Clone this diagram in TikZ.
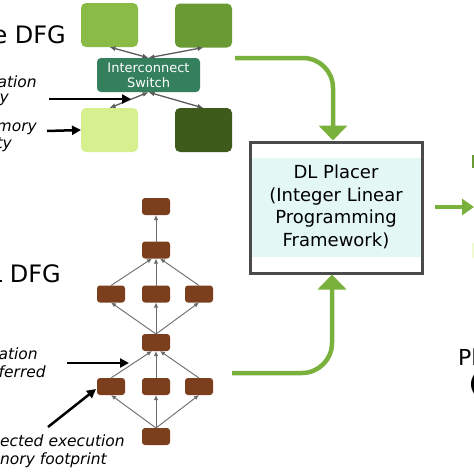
\documentclass[tikz,border=0pt]{standalone}
\usepackage{fontspec}
\setmainfont{DejaVu Sans}
\usetikzlibrary{arrows.meta}
\definecolor{gA}{HTML}{8BBB47}
\definecolor{gB}{HTML}{6A9A33}
\definecolor{gC}{HTML}{D6EF8F}
\definecolor{gD}{HTML}{3E5B1B}
\definecolor{swc}{HTML}{347F5C}
\definecolor{brn}{HTML}{7B3F1E}
\definecolor{garr}{HTML}{7AB13C}
\definecolor{dlfill}{HTML}{E3F7F4}
\definecolor{edgec}{HTML}{6B6B6B}
\definecolor{boxb}{HTML}{4A4A4A}
\tikzset{
  sq/.style={rounded corners=5pt, inner sep=0pt, outer sep=0pt, minimum width=57pt, minimum height=44pt},
  bn/.style={fill=brn, rounded corners=3pt, inner sep=0pt, outer sep=0pt, minimum width=28pt, minimum height=17pt},
  dedge/.style={draw=edgec, line width=0.9pt, -{Latex[length=5pt,width=4.5pt]}},
  sedge/.style={draw=edgec!85!black, line width=1.3pt, {Latex[length=6pt,width=5pt]}-{Latex[length=6pt,width=5pt]}},
  blk/.style={draw=black, line width=2.5pt, -{Triangle[length=9pt,width=9pt]}},
  gar/.style={draw=garr, line width=4.5pt, -{Triangle[length=15pt,width=28pt]}},
  ann/.style={font=\fontsize{15.5}{18}\selectfont\itshape, inner sep=0pt},
  ttl/.style={font=\fontsize{24}{28}\selectfont, inner sep=0pt},
}
\begin{document}
\begin{tikzpicture}[x=1pt,y=-1pt]
\useasboundingbox (0,0) rectangle (474,474);
\fill[white] (0,0) rectangle (474,474);

% titles
\node[ttl, anchor=base east] (t1) at (66,43) {e DFG};
\node[ttl, anchor=base east] (t2) at (61,282) {L DFG};

% hardware DFG
\node[sq, fill=gA] (tl) at (109.5,25) {};
\node[sq, fill=gB] (tr) at (203.5,25.5) {};
\node[sq, fill=gC] (bl) at (109.5,130) {};
\node[sq, fill=gD] (br) at (203.5,130) {};
\node[fill=swc, rounded corners=4pt, minimum width=103pt, minimum height=34pt, inner sep=0pt] (sw) at (148.5,75) {};
\node[text=white, font=\fontsize{13}{15}\selectfont, align=center, inner sep=0pt] (swt) at (148.5,75) {Interconnect\\Switch};
\draw[sedge] (tl.south) -- (sw.north);
\draw[sedge] (tr.south) -- (sw.north);
\draw[sedge] (bl.north) -- (sw.south);
\draw[sedge] (br.north) -- (sw.south);

% annotations top
\node[ann, anchor=base east] (a1) at (37,87) {ation};
\node[ann, anchor=base east] (a2) at (9,102) {y};
\node[ann, anchor=base east] (a3) at (37,131) {mory};
\node[ann, anchor=base east] (a4) at (12,148) {ty};
\coordinate (p1s) at (49,99);
\coordinate (p1e) at (131,99);
\draw[blk] (p1s) -- (p1e);
\coordinate (p2s) at (47,131);
\draw[blk] (p2s) -- (bl.west);

% DL DFG
\node[bn] (n1) at (156,206.5) {};
\node[bn] (n2) at (156,250) {};
\node[bn] (r3a) at (111,294) {};
\node[bn] (r3b) at (156,294) {};
\node[bn] (r3c) at (199,294) {};
\node[bn] (n4) at (156,342.5) {};
\node[bn] (r5a) at (111,386.5) {};
\node[bn] (r5b) at (156,386.5) {};
\node[bn] (r5c) at (199,386.5) {};
\node[bn] (n6) at (156,436.5) {};
\draw[dedge] (n2.north) -- (n1.south);
\draw[dedge] (r3a.north) -- ([xshift=-4pt]n2.south);
\draw[dedge] (r3b.north) -- (n2.south);
\draw[dedge] (r3c.north) -- ([xshift=4pt]n2.south);
\draw[dedge] (n4.north) -- (r3a.south);
\draw[dedge] (n4.north) -- (r3b.south);
\draw[dedge] (n4.north) -- (r3c.south);
\draw[dedge] (r5a.north) -- ([xshift=-4pt]n4.south);
\draw[dedge] (r5b.north) -- (n4.south);
\draw[dedge] (r5c.north) -- ([xshift=4pt]n4.south);
\draw[dedge] (n6.north) -- (r5a.south);
\draw[dedge] (n6.north) -- (r5b.south);
\draw[dedge] (n6.north) -- (r5c.south);

% annotations bottom
\node[ann, anchor=base east] (b1) at (38,359) {ation};
\node[ann, anchor=base east] (b2) at (46,377) {ferred};
\node[ann, anchor=base east] (b3) at (125,446) {ected execution};
\node[ann, anchor=base east] (b4) at (107,464) {nory footprint};
\coordinate (p3s) at (67,363);
\coordinate (p3e) at (129,363);
\draw[blk] (p3s) -- (p3e);
\coordinate (p4s) at (48,427);
\coordinate (p4e) at (96,389);
\draw[blk] (p4s) -- (p4e);

% DL placer box
\node[draw=boxb, line width=3pt, fill=white, minimum width=172pt, minimum height=131pt, inner sep=0pt] (dl) at (336,207.5) {};
\fill[dlfill] (251.5,158) rectangle (420.5,257);
\node[font=\fontsize{18}{22.5}\selectfont, align=center, inner sep=0pt] (dlt) at (336,207) {DL Placer\\(Integer Linear\\Programming\\Framework)};

% green connectors
\coordinate (g1s) at (235,58);
\draw[gar, rounded corners=30pt] (g1s) -- (333,58) -- (dl.north -| 333,0);
\coordinate (g2s) at (232,373);
\draw[gar, rounded corners=30pt] (g2s) -- (332,373) -- (dl.south -| 332,0);
\coordinate (g3s) at (435,207);
\coordinate (g3e) at (474,207);
\draw[draw=garr, line width=4pt, -{Triangle[length=12pt,width=16pt]}] (g3s) -- (g3e);

% partial items at right edge
\fill[gB] (472,155) rectangle (480,168);
\fill[gC!40] (472,243) rectangle (480,258);
\node[font=\fontsize{22}{26}\selectfont, inner sep=0pt, anchor=base west] (pl) at (458,365) {Pl};
\node[font=\fontsize{22}{26}\selectfont\bfseries, inner sep=0pt, anchor=base west] (pc) at (469,391) {(};
\end{tikzpicture}
\end{document}
